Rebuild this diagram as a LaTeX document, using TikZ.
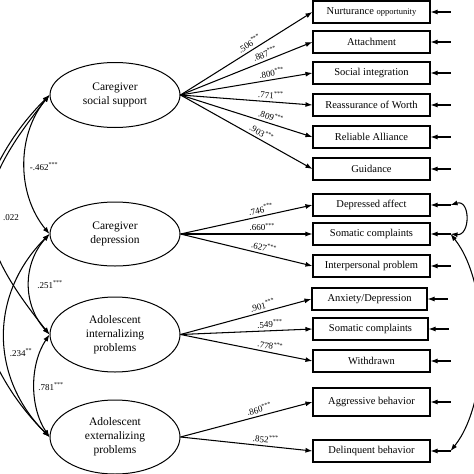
\documentclass[tikz,border=0pt]{standalone}
\usepackage{fontspec}
\setmainfont{Liberation Serif}
\usetikzlibrary{shapes.geometric,arrows.meta}
\begin{document}
\begin{tikzpicture}[x=1pt,y=-1pt,
 latent/.style={ellipse,draw,line width=1pt,minimum width=130pt,inner sep=0pt,align=center,font=\fontsize{11.5}{14}\selectfont},
 obs/.style={rectangle,draw,line width=1.1pt,minimum width=117pt,minimum height=22pt,inner sep=0pt,font=\fontsize{10.5}{12}\selectfont},
 load/.style={line width=1.05pt,-{Latex[length=7pt,width=5pt]}},
 cov/.style={line width=1.05pt,{Latex[length=7pt,width=5pt]}-{Latex[length=7pt,width=5pt]}},
 coef/.style={font=\fontsize{9}{10}\selectfont,sloped,above,inner sep=2.5pt},
 clab/.style={font=\fontsize{9}{10}\selectfont,inner sep=0pt},
]
\useasboundingbox (0,0) rectangle (474,474);
\clip (0,0) rectangle (474,474);
\fill[white] (0,0) rectangle (474,474);

% latent variables
\node[latent,minimum height=65pt] (ss) at (115,95) {Caregiver\\social support};
\node[latent,minimum height=64pt] (dep) at (115,234) {Caregiver\\depression};
\node[latent,minimum height=75pt] (int) at (115,334.5) {Adolescent\\internalizing\\problems};
\node[latent,minimum height=74pt] (ext) at (115,437) {Adolescent\\externalizing\\problems};

% observed variables
\node[obs] (n1) at (371.5,12) {Nurturance {\fontsize{8.5}{10}\selectfont opportunity}};
\node[obs] (n2) at (371.5,42) {Attachment};
\node[obs] (n3) at (371.5,73) {Social integration};
\node[obs] (n4) at (371.5,105) {Reassurance of Worth};
\node[obs] (n5) at (371.5,137) {Reliable Alliance};
\node[obs] (n6) at (371.5,169) {Guidance};
\node[obs] (d1) at (371.5,205) {Depressed affect};
\node[obs] (d2) at (371.5,234) {Somatic complaints};
\node[obs] (d3) at (371.5,266) {Interpersonal problem};
\node[obs,minimum width=115pt] (i1) at (369.5,299) {Anxiety/Depression};
\node[obs,minimum width=115pt] (i2) at (370.5,329) {Somatic complaints};
\node[obs] (i3) at (371.5,361) {Withdrawn};
\node[obs,minimum height=28pt] (x1) at (371.5,402) {Aggressive behavior};
\node[obs] (x2) at (371.5,451) {Delinquent behavior};

% error terms
\foreach \b in {n1,n2,n3,n4,n5,n6,d1,d2,d3,i1,i2,i3,x1,x2}{
  \path (\b.east) ++(20,0) coordinate (e\b);
  \draw[load] (e\b) -- (\b.east);
}

% loadings
\draw[load] (ss.east) -- node[coef,pos=0.55] {.506\textsuperscript{***}} (n1.west);
\draw[load] (ss.east) -- node[coef,pos=0.66] {.887\textsuperscript{***}} (n2.west);
\draw[load] (ss.east) -- node[coef,pos=0.70] {.800\textsuperscript{***}} (n3.west);
\draw[load] (ss.east) -- node[coef,pos=0.68] {.771\textsuperscript{***}} (n4.west);
\draw[load] (ss.east) -- node[coef,pos=0.67] {.809\textsuperscript{***}} (n5.west);
\draw[load] (ss.east) -- node[coef,pos=0.59] {.903\textsuperscript{***}} (n6.west);
\draw[load] (dep.east) -- node[coef,pos=0.62] {.746\textsuperscript{***}} (d1.west);
\draw[load] (dep.east) -- node[coef,pos=0.62] {.660\textsuperscript{***}} (d2.west);
\draw[load] (dep.east) -- node[coef,pos=0.62] {.627\textsuperscript{***}} (d3.west);
\draw[load] (int.east) -- node[coef,pos=0.64] {.901\textsuperscript{***}} (i1.west);
\draw[load] (int.east) -- node[coef,pos=0.68] {.549\textsuperscript{***}} (i2.west);
\draw[load] (int.east) -- node[coef,pos=0.67] {.778\textsuperscript{***}} (i3.west);
\draw[load] (ext.east) -- node[coef,pos=0.61] {.860\textsuperscript{***}} (x1.west);
\draw[load] (ext.east) -- node[coef,pos=0.64] {.852\textsuperscript{***}} (x2.west);

% latent covariances
\draw[cov] (ss.west) .. controls +(-33,40) and +(-33,-40) .. (dep.west);
\draw[cov] (dep.west) .. controls +(-27,30) and +(-27,-30) .. (int.west);
\draw[cov] (int.west) .. controls +(-20,30) and +(-20,-30) .. (ext.west);
\draw[cov] (ss.west) .. controls +(-80,100) and +(-80,-100) .. (int.west);
\draw[cov] (dep.west) .. controls +(-60,60) and +(-60,-60) .. (ext.west);
\draw[cov] (ss.west) .. controls +(-100,100) and +(-100,-100) .. (ext.west);
\node[clab] (l1) at (44,167) {-.462\textsuperscript{***}};
\node[clab] (l2) at (50,285) {.251\textsuperscript{***}};
\node[clab] (l3) at (51,387) {.781\textsuperscript{***}};
\node[clab] (l4) at (11,218) {.022};
\node[clab] (l5) at (21,353) {.234\textsuperscript{**}};

% error covariances
\draw[cov] (ed1) .. controls +(20,-6) and +(20,2) .. (ed2);
\draw[cov] (ed2) .. controls +(40,50) and +(40,-50) .. (ex2);
\end{tikzpicture}
\end{document}
